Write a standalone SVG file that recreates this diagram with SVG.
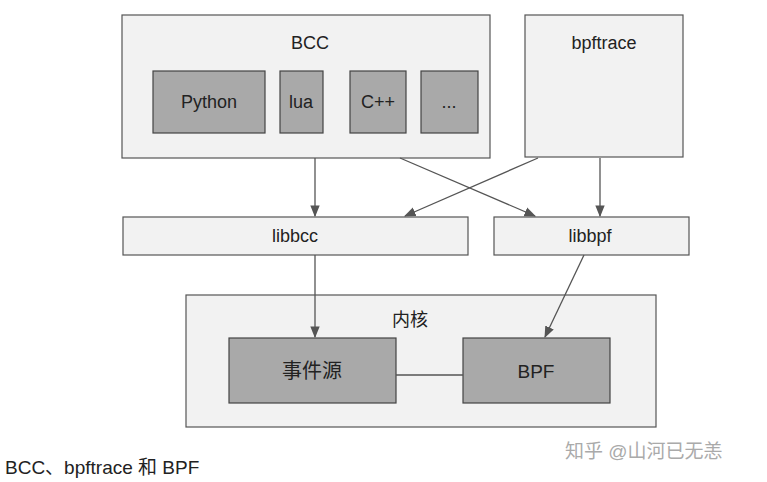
<svg xmlns="http://www.w3.org/2000/svg" width="767" height="482" viewBox="0 0 767 482">
<defs>
<style>
.o{fill:#f2f2f2;stroke:#555;stroke-width:1.2}
.i{fill:#a9a9a9;stroke:#444;stroke-width:1.2}
text{font-family:"Liberation Sans","Noto Sans CJK SC",sans-serif;font-size:18px;fill:#222;text-anchor:middle}
.c{stroke:#555;stroke-width:1.3;fill:none}
</style>
<marker id="a" viewBox="0 0 10 10" refX="9" refY="5" markerWidth="9" markerHeight="9" orient="auto"><path d="M0,1 L10,5 L0,9 z" fill="#555"/></marker>
</defs>
<rect width="767" height="482" fill="#fff"/>
<g id="bcc"><rect class="o" x="122" y="15" width="368" height="143"/><text x="310" y="49">BCC</text></g>
<g id="python"><rect class="i" x="153" y="71" width="112" height="62"/><text x="209" y="108">Python</text></g>
<g id="lua"><rect class="i" x="280" y="71" width="43" height="62"/><text x="301" y="108">lua</text></g>
<g id="cpp"><rect class="i" x="350" y="71" width="56" height="62"/><text x="378" y="108">C++</text></g>
<g id="more"><rect class="i" x="421" y="71" width="57" height="62"/><text x="449" y="108">...</text></g>
<g id="bpftrace"><rect class="o" x="525" y="15" width="158" height="142"/><text x="604" y="49">bpftrace</text></g>
<g id="libbcc"><rect class="o" x="123" y="217" width="345" height="38"/><text x="295" y="242">libbcc</text></g>
<g id="libbpf"><rect class="o" x="494" y="217" width="195" height="38"/><text x="590" y="242">libbpf</text></g>
<g id="kernel"><rect class="o" x="186" y="295" width="470" height="132"/><text x="410" y="326">内核</text></g>
<g id="events"><rect class="i" x="229" y="338" width="167" height="65"/><text x="312" y="378" style="font-size:20px">事件源</text></g>
<g id="bpf"><rect class="i" x="463" y="338" width="147" height="65"/><text x="536" y="378" style="font-size:19px">BPF</text></g>
<g id="connectors">
<line class="c" x1="315" y1="158" x2="315" y2="216" marker-end="url(#a)"/>
<line class="c" x1="400" y1="158" x2="535" y2="216" marker-end="url(#a)"/>
<line class="c" x1="538" y1="158" x2="405" y2="216" marker-end="url(#a)"/>
<line class="c" x1="600" y1="158" x2="600" y2="216" marker-end="url(#a)"/>
<line class="c" x1="315" y1="255" x2="315" y2="337" marker-end="url(#a)"/>
<line class="c" x1="584" y1="255" x2="545" y2="337" marker-end="url(#a)"/>
<line class="c" x1="396" y1="375" x2="463" y2="375"/>
</g>
<text x="5" y="474" style="text-anchor:start;font-size:19px">BCC、bpftrace 和 BPF</text>
<text x="565" y="458" style="text-anchor:start;font-size:19px;fill:#aaa">知乎 @山河已无恙</text>
</svg>
